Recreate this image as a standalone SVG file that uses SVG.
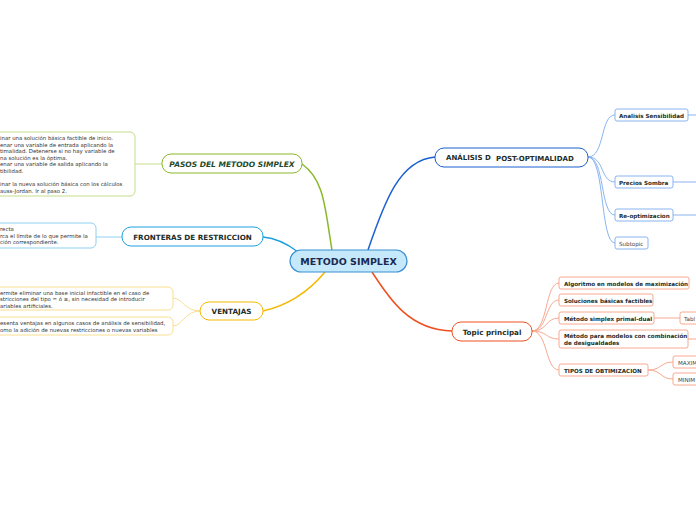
<svg xmlns="http://www.w3.org/2000/svg" width="696" height="520" viewBox="0 0 696 520">
<style>
text{font-family:Verdana,"DejaVu Sans",sans-serif;}
.b{font-weight:bold;fill:#1d2d2a}
.s{font-size:5.4px;fill:#333}
.n{fill:#fff;stroke-width:1}
.c{fill:none}
</style>
<rect width="696" height="520" fill="#fff"/>
<g id="connectors" class="c">
<path d="M332,250 C325,210 325,180 302,164" stroke="#8ab828" stroke-width="1.5"/>
<path d="M162,164 H135" stroke="#c5dd8a"/>
<path d="M298,252 C285,242 275,238 263,237" stroke="#1aa0e0" stroke-width="1.5"/>
<path d="M122,237 H96" stroke="#8dd0f0"/>
<path d="M325,272 C310,290 290,305 263,311" stroke="#f5b800" stroke-width="1.5"/>
<path d="M200,311 C185,311 182,298 173,298 M200,311 C185,311 182,326 173,326" stroke="#fadf90"/>
<path d="M368,250 C385,200 400,160 435,157" stroke="#1a60d0" stroke-width="1.5"/>
<path d="M588,157 C605,157 600,115 615,115 M588,157 C605,157 600,182 615,182 M588,157 C605,157 600,215 615,215 M588,157 C605,157 600,243 615,243" stroke="#8ab4f0"/>
<path d="M688,115 H696 M673,182 H696 M673,215 H696" stroke="#8ab4f0"/>
<path d="M372,272 C390,300 410,330 452,331" stroke="#f05020" stroke-width="1.5"/>
<path d="M532,331 C548,331 545,283 559,283 M532,331 C548,331 545,300 559,300 M532,331 C548,331 545,318 559,318 M532,331 C548,331 545,339 559,339 M532,331 C548,331 545,370 559,370" stroke="#f9a890"/>
<path d="M654,318 H680 M688,339 H696 M648,370 C662,370 660,362 673,362 M648,370 C662,370 660,379 673,379" stroke="#f9a890"/>
</g>
<g id="center"><rect x="290" y="250" width="117" height="22" rx="11" fill="#c5e8fb" stroke="#3a8fd0" stroke-width="1.2"/><text x="348.5" y="264.5" text-anchor="middle" font-size="9.5" font-weight="bold" fill="#1a2a50">METODO SIMPLEX</text></g>
<g id="pasos"><rect class="n" x="162" y="154" width="140" height="19" rx="9" stroke="#8ab828" stroke-width="1.3"/><text x="232" y="167" text-anchor="middle" font-size="7.5" font-weight="bold" font-style="italic" fill="#1e4a2a">PASOS DEL METODO SIMPLEX</text></g>
<g id="pasos-nota"><rect class="n" x="-6" y="132" width="141" height="64" rx="5" stroke="#c5dd8a"/>
<text class="s"><tspan x="0" y="140">inar una solución básica factible de inicio.</tspan><tspan x="0" y="146.5">enar una variable de entrada aplicando la</tspan><tspan x="0" y="153">timalidad. Detenerse si no hay variable de</tspan><tspan x="0" y="159.5">na solución es la óptima.</tspan><tspan x="0" y="166">enar una variable de salida aplicando la</tspan><tspan x="0" y="172.5">tibilidad.</tspan><tspan x="0" y="186">inar la nueva solución básica con los cálculos</tspan><tspan x="0" y="192.5">auss-Jordan. Ir al paso 2.</tspan></text></g>
<g id="fronteras"><rect class="n" x="122" y="227" width="141" height="19" rx="9" stroke="#1aa0e0" stroke-width="1.3"/><text x="192.5" y="239.5" text-anchor="middle" font-size="7.2" class="b">FRONTERAS DE RESTRICCION</text></g>
<g id="fronteras-nota"><rect class="n" x="-6" y="223" width="102" height="25" rx="5" stroke="#8dd0f0"/>
<text class="s"><tspan x="0" y="231">recta</tspan><tspan x="0" y="237.5">rca el límite de lo que permite la</tspan><tspan x="0" y="244">ción correspondiente.</tspan></text></g>
<g id="ventajas"><rect class="n" x="200" y="302" width="63" height="18" rx="9" stroke="#f5b800" stroke-width="1.3"/><text x="231.5" y="314" text-anchor="middle" font-size="7.2" class="b">VENTAJAS</text></g>
<g id="ventaja1"><rect class="n" x="-6" y="287" width="179" height="23" rx="5" stroke="#fadf90"/>
<text class="s"><tspan x="0" y="294.5">ermite eliminar una base inicial infactible en el caso de</tspan><tspan x="0" y="301">stricciones del tipo = ó ≥, sin necesidad de introducir</tspan><tspan x="0" y="307.5">ariables artificiales.</tspan></text></g>
<g id="ventaja2"><rect class="n" x="-6" y="317" width="179" height="18" rx="5" stroke="#fadf90"/>
<text class="s"><tspan x="0" y="325">esenta ventajas en algunos casos de análisis de sensibilidad,</tspan><tspan x="0" y="331.5">omo la adición de nuevas restricciones o nuevas variables</tspan></text></g>
<g id="analisis"><rect class="n" x="435" y="148" width="153" height="19" rx="9" stroke="#1a60d0" stroke-width="1.3"/><text x="446" y="159.5" font-size="7" class="b">ANÁLISIS D</text><text x="496" y="161" font-size="7" class="b">POST-OPTIMALIDAD</text></g>
<g id="sensibilidad"><rect class="n" x="615" y="109" width="73" height="12" rx="2" stroke="#8ab4f0"/><text x="619" y="117.5" font-size="5.6" class="b">Analisis Sensibilidad</text></g>
<g id="sombra"><rect class="n" x="615" y="176" width="58" height="12" rx="2" stroke="#8ab4f0"/><text x="619" y="184.5" font-size="5.6" class="b">Precios Sombra</text></g>
<g id="reopt"><rect class="n" x="615" y="209" width="58" height="12" rx="2" stroke="#8ab4f0"/><text x="619" y="217.5" font-size="5.6" class="b">Re-optimizacion</text></g>
<g id="subtopic"><rect class="n" x="615" y="237" width="33" height="12" rx="2" stroke="#8ab4f0"/><text x="619" y="245.5" font-size="5.6" fill="#444">Subtopic</text></g>
<g id="topic"><rect class="n" x="452" y="322" width="80" height="19" rx="9" stroke="#f05020" stroke-width="1.3"/><text x="492" y="334.5" text-anchor="middle" font-size="7.2" class="b">Topic principal</text></g>
<g id="algoritmo"><rect class="n" x="559" y="277" width="130" height="12" rx="2" stroke="#f9a890"/><text x="564" y="285.5" font-size="5.6" class="b">Algoritmo en modelos de maximización</text></g>
<g id="soluciones"><rect class="n" x="559" y="294" width="94" height="12" rx="2" stroke="#f9a890"/><text x="564" y="302.5" font-size="5.6" class="b">Soluciones básicas factibles</text></g>
<g id="primal"><rect class="n" x="559" y="312" width="95" height="12" rx="2" stroke="#f9a890"/><text x="564" y="320.5" font-size="5.6" class="b">Método simplex primal-dual</text></g>
<g id="tabl"><rect class="n" x="680" y="312" width="24" height="12" rx="2" stroke="#f9a890"/><text x="684" y="320.5" font-size="5.6" fill="#444">Tabl</text></g>
<g id="combinacion"><rect class="n" x="559" y="330" width="129" height="18" rx="2" stroke="#f9a890"/><text font-size="5.6" class="b"><tspan x="564" y="338">Método para modelos con combinación</tspan><tspan x="564" y="345">de desigualdades</tspan></text></g>
<g id="tipos"><rect class="n" x="559" y="364" width="89" height="12" rx="2" stroke="#f9a890"/><text x="564" y="372.5" font-size="5.6" class="b">TIPOS DE OBTIMIZACION</text></g>
<g id="maxim"><rect class="n" x="673" y="356" width="30" height="12" rx="2" stroke="#f9a890"/><text x="678" y="364.5" font-size="5.6" fill="#444">MAXIM</text></g>
<g id="minim"><rect class="n" x="673" y="373" width="30" height="12" rx="2" stroke="#f9a890"/><text x="678" y="381.5" font-size="5.6" fill="#444">MINIM</text></g>
</svg>
